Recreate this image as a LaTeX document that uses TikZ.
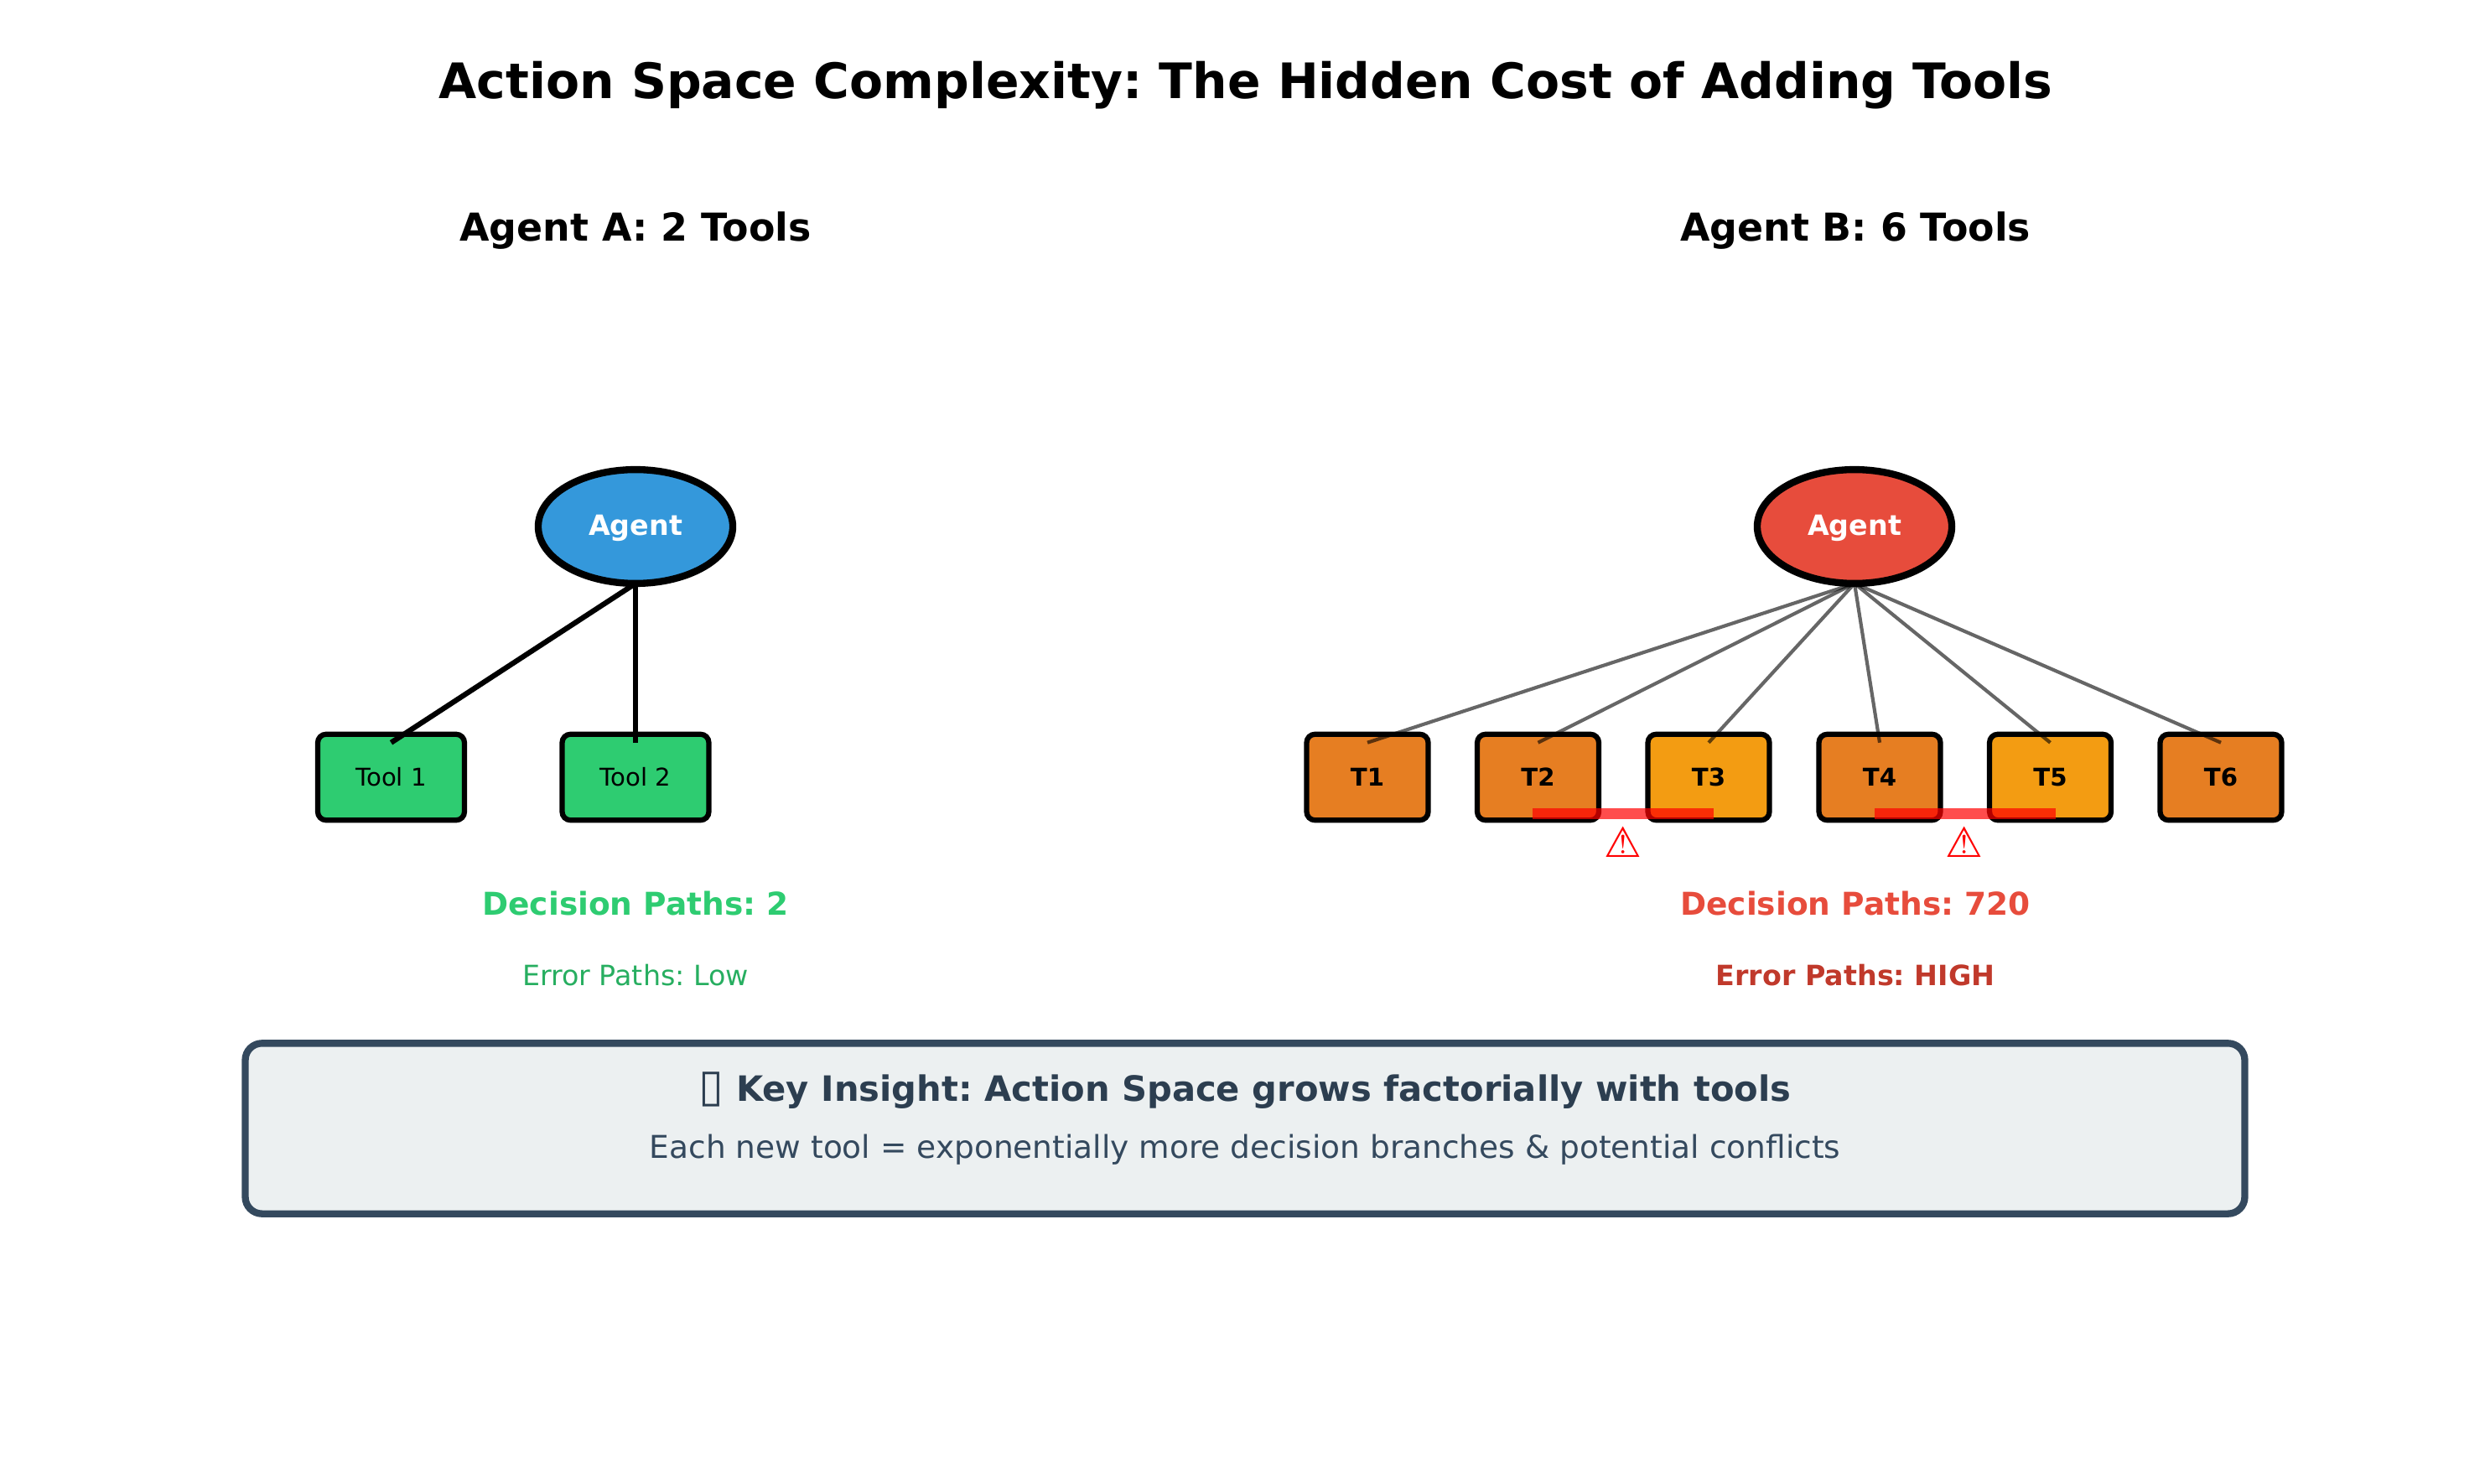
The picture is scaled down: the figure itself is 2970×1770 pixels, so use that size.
\documentclass[tikz,border=0pt]{standalone}
\usepackage{fontspec}
\setmainfont{DejaVu Sans}
\frenchspacing
\usetikzlibrary{shapes.geometric}
\definecolor{bluefill}{HTML}{3498DB}
\definecolor{redfill}{HTML}{E74C3C}
\definecolor{greenfill}{HTML}{2ECC71}
\definecolor{darkgreen}{HTML}{27AE60}
\definecolor{darkred}{HTML}{C0392B}
\definecolor{orangefill}{HTML}{E67E22}
\definecolor{yellowfill}{HTML}{F39C12}
\definecolor{notefill}{HTML}{ECF0F1}
\definecolor{noteline}{HTML}{34495E}
\definecolor{notetext}{HTML}{2C3E50}
\tikzset{
  agentnode/.style={ellipse,draw=black,line width=2pt,minimum width=55.7pt,minimum height=32.6pt,inner sep=0pt,outer sep=0pt,text=white,text height=6.8pt,text depth=1.6pt,font=\fontsize{8}{10}\selectfont\bfseries},
  toolnode/.style={rectangle,rounded corners=2.4pt,draw=black,line width=1.5pt,fill=greenfill,minimum width=42pt,minimum height=24.6pt,inner sep=0pt,outer sep=0pt,font=\fontsize{7}{9}\selectfont},
  smallnode/.style={toolnode,minimum width=34.8pt,font=\fontsize{7}{9}\selectfont\bfseries},
  warnnode/.style={text=red,inner sep=0pt,font=\fontsize{12}{14}\selectfont},
  conflict/.style={red,opacity=.7,line width=3pt,line cap=rect},
}
\begin{document}
\begin{tikzpicture}[x=.24pt,y=-.24pt]
  \useasboundingbox (0,0) rectangle (2970,1770);
  \node (title) at (1486,102) {\fontsize{14}{17}\selectfont\bfseries Action Space Complexity: The Hidden Cost of Adding Tools};
  \node (heada) at (758,275) {\fontsize{11}{13}\selectfont\bfseries Agent A: 2 Tools};
  \node (headb) at (2213,275) {\fontsize{11}{13}\selectfont\bfseries Agent B: 6 Tools};
  % left side
  \node[agentnode,fill=bluefill] (agenta) at (758,628) {Agent};
  \node[toolnode] (tool1) at (466.5,927) {Tool 1};
  \node[toolnode] (tool2) at (758,927) {Tool 2};
  \begin{scope}[line width=1.5pt]
    \draw (agenta.south) -- ([yshift=-2.4pt]tool1.north);
    \draw (agenta.south) -- ([yshift=-2.4pt]tool2.north);
  \end{scope}
  % right side
  \node[agentnode,fill=redfill] (agentb) at (2212,628) {Agent};
  \node[smallnode,fill=orangefill] (t1) at (1631,927) {T1};
  \node[smallnode,fill=orangefill] (t2) at (1834.5,927) {T2};
  \node[smallnode,fill=yellowfill] (t3) at (2038,927) {T3};
  \node[smallnode,fill=orangefill] (t4) at (2242,927) {T4};
  \node[smallnode,fill=yellowfill] (t5) at (2445.5,927) {T5};
  \node[smallnode,fill=orangefill] (t6) at (2649,927) {T6};
  \begin{scope}[line width=1pt,black,opacity=.6]
    \draw (agentb.south) -- ([yshift=-2.4pt]t1.north);
    \draw (agentb.south) -- ([yshift=-2.4pt]t2.north);
    \draw (agentb.south) -- ([yshift=-2.4pt]t3.north);
    \draw (agentb.south) -- ([yshift=-2.4pt]t4.north);
    \draw (agentb.south) -- ([yshift=-2.4pt]t5.north);
    \draw (agentb.south) -- ([yshift=-2.4pt]t6.north);
  \end{scope}
  \draw[conflict] ([yshift=-10.4pt]t2.center) -- ([yshift=-10.4pt]t3.center);
  \draw[conflict] ([yshift=-10.4pt]t4.center) -- ([yshift=-10.4pt]t5.center);
  \node[warnnode] (warn1) at (1936,1004) {⚠};
  \node[warnnode] (warn2) at (2343,1004) {⚠};
  % path counts
  \node[text=greenfill] (patha) at (758,1078) {\fontsize{9}{11}\selectfont\bfseries Decision Paths: 2};
  \node[text=darkgreen] (errora) at (758,1163) {\fontsize{8}{10}\selectfont Error Paths: Low};
  \node[text=redfill] (pathb) at (2213,1078) {\fontsize{9}{11}\selectfont\bfseries Decision Paths: 720};
  \node[text=darkred] (errorb) at (2213,1163) {\fontsize{8}{10}\selectfont\bfseries Error Paths: HIGH};
  % insight box
  \node[rectangle,rounded corners=4.8pt,draw=noteline,line width=2pt,fill=notefill,minimum width=572.4pt,minimum height=48.8pt,inner sep=0pt,outer sep=0pt] (note) at (1485,1346) {};
  \node[text=notetext] (note1) at (1485,1301) {\fontsize{10}{12}\selectfont\bfseries {\fontsize{13}{12}\selectfont\mdseries ▯} Key Insight: Action Space grows factorially with tools};
  \node[text=noteline] (note2) at (1485,1371) {\fontsize{9}{11}\selectfont Each new tool = exponentially more decision branches \& potential conflicts};
\end{tikzpicture}
\end{document}
